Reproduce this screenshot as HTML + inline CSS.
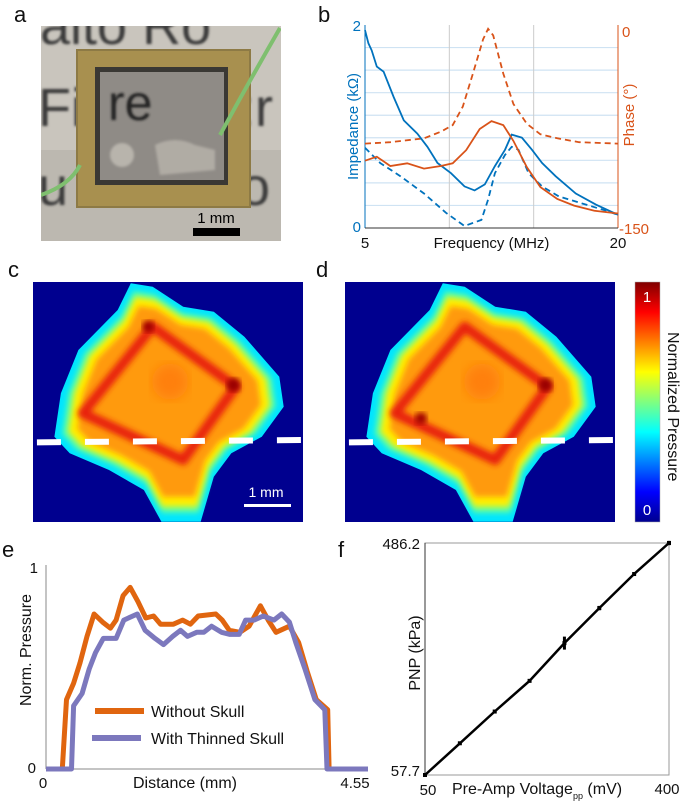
<!DOCTYPE html>
<html><head><meta charset="utf-8"><style>
body{margin:0;background:#fff;width:685px;height:805px;overflow:hidden;font-family:"Liberation Sans",sans-serif}
svg{position:absolute;left:0;top:0}
</style></head><body>
<svg id="fig" width="685" height="805" viewBox="0 0 685 805">
<defs>
<filter id="blur3"><feGaussianBlur stdDeviation="3"/></filter>
<filter id="blur5"><feGaussianBlur stdDeviation="6"/></filter>
<filter id="blur1"><feGaussianBlur stdDeviation="1.2"/></filter>
<linearGradient id="jet" x1="0" y1="1" x2="0" y2="0">
<stop offset="0" stop-color="#00008f"/><stop offset="0.125" stop-color="#0000ff"/><stop offset="0.375" stop-color="#00ffff"/><stop offset="0.625" stop-color="#ffff00"/><stop offset="0.875" stop-color="#ff0000"/><stop offset="1" stop-color="#800000"/>
</linearGradient>
<clipPath id="clipC"><rect x="33" y="282" width="270" height="240"/></clipPath>
<clipPath id="clipD"><rect x="345" y="282" width="270" height="240"/></clipPath>
<clipPath id="clipPhoto"><rect x="41" y="26" width="240" height="215"/></clipPath>
</defs>
<g font-size="22" fill="#111">
<text x="14" y="22">a</text>
<text x="318" y="22">b</text>
<text x="8" y="277">c</text>
<text x="316" y="277">d</text>
<text x="2" y="557">e</text>
<text x="338" y="557">f</text>
</g>
<!-- photo -->
<g id="photo" clip-path="url(#clipPhoto)">
<rect x="41" y="26" width="240" height="215" fill="#c9c5bd"/>
<rect x="41" y="150" width="240" height="91" fill="#bcb8b0"/>
<g font-size="54" fill="#3a3a3a" filter="url(#blur1)">
<text x="40" y="44">alto Ro</text>
<text x="38" y="126">Fi</text><text x="240" y="126">:r</text>
<text x="38" y="205">u</text><text x="240" y="205">o</text>
</g>
<rect x="77" y="50" width="173" height="157" fill="#a8904f" stroke="#8d7a45" stroke-width="2"/>
<rect x="95" y="67" width="133" height="118" fill="#3a3834"/>
<rect x="100" y="72" width="124" height="108" fill="#8f8b86"/>
<text x="108" y="120" font-size="50" fill="#202020" filter="url(#blur1)">re</text>
<path d="M155,145 q20,-10 40,0 l20,5 l0,20 l-55,5 z" fill="#b0aca4" filter="url(#blur1)"/>
<circle cx="122" cy="155" r="12" fill="#b8b4ac" filter="url(#blur1)"/>
<path d="M280,28 Q250,80 220,135" stroke="#7fbf6f" stroke-width="4" fill="none"/>
<path d="M41,195 Q70,185 80,165" stroke="#7fbf6f" stroke-width="4" fill="none"/>
<text x="216" y="223" font-size="15" text-anchor="middle" fill="#000">1 mm</text>
<rect x="193" y="228" width="47" height="8" fill="#000"/>
</g>
<g id="chartB"></g>
<g id="heatC"></g>
<g id="heatD"></g>
<g>
<rect x="635" y="282" width="25" height="240" fill="url(#jet)" stroke="#aaa" stroke-width="0.5"/>
<text x="647" y="302" font-size="15" fill="#fff" text-anchor="middle">1</text>
<text x="647" y="515" font-size="15" fill="#fff" text-anchor="middle">0</text>
<text transform="translate(668,332) rotate(90)" font-size="16" fill="#111">Normalized Pressure</text>
</g>
<g id="chartE"></g>
<g id="chartF"></g>
</svg>
<script>
// ---- Panel b data ----
const freqImpSolid = [5,5.2,5.4,5.7,6.1,6.7,7.3,8.1,8.7,9.3,10.1,10.9,11.5,12.1,12.7,13.3,13.7,14.3,14.9,15.5,16.3,17.5,18.7,20];
const impSolid = [1.95,1.82,1.75,1.59,1.54,1.29,1.06,0.93,0.8,0.64,0.54,0.41,0.37,0.43,0.61,0.77,0.92,0.89,0.77,0.64,0.51,0.34,0.23,0.13];
const freqImpDash = [5,5.9,7.1,8.5,9.8,10.9,11.9,12.3,12.7,13.3,13.7,14.1,14.7,15.5,16.5,17.9,19.1,20];
const impDash = [0.79,0.64,0.51,0.34,0.15,0.02,0.08,0.28,0.54,0.72,0.8,0.77,0.54,0.41,0.31,0.24,0.18,0.13];
const freqPhSolid = [5,5.7,6.5,7.5,8.5,9.5,10.2,11,11.8,12.5,13.2,13.8,14.6,15.4,16.4,17.4,18.6,20];
const phSolid = [-99,-96,-103,-101,-105,-103,-101,-91,-75,-69,-72,-84,-104,-119,-128,-133,-137,-139];
const freqPhDash = [5,6.5,8.5,9.5,10.2,10.8,11.4,12,12.3,12.6,13.2,13.8,14.6,15.4,16.4,17.7,20];
const phDash = [-86,-85,-82,-77,-72,-58,-33,-7,1,-4,-33,-56,-71,-79,-82,-85,-86];
const freqTicks = ["5","20"];
// ---- Panel e data ----
const distO = [0,0.23,0.29,0.39,0.48,0.58,0.68,0.8,0.91,0.99,1.09,1.19,1.3,1.41,1.52,1.62,1.8,1.93,2.04,2.15,2.4,2.49,2.59,2.74,2.87,3.03,3.14,3.25,3.44,3.57,3.69,3.82,3.98,4,4.55];
const presO = [0,0,0.34,0.42,0.52,0.65,0.76,0.72,0.69,0.73,0.85,0.89,0.82,0.74,0.75,0.71,0.71,0.73,0.71,0.75,0.76,0.73,0.68,0.67,0.70,0.80,0.73,0.67,0.70,0.62,0.48,0.34,0.29,0,0];
const distP = [0,0.36,0.39,0.51,0.61,0.7,0.81,0.99,1.1,1.29,1.4,1.54,1.66,1.79,1.9,2.0,2.13,2.23,2.34,2.48,2.6,2.73,2.82,2.94,3.07,3.22,3.33,3.44,3.53,3.66,3.8,3.94,3.97,4.55];
const presP = [0,0,0.31,0.37,0.49,0.57,0.64,0.64,0.73,0.76,0.68,0.64,0.61,0.65,0.68,0.65,0.67,0.67,0.7,0.67,0.66,0.66,0.73,0.73,0.75,0.73,0.76,0.72,0.62,0.49,0.34,0.29,0,0];
// ---- Panel f data ----
const voltage = [50,100,150,200,250,300,350,400];
const pnp = [57.7,116.3,174.9,231.6,301.3,366.0,428.9,486.2];
const pnpErr = [2,3,3,3,12,4,3,4];

const NS="http://www.w3.org/2000/svg";
function mk(parent,tag,attrs,text){const e=document.createElementNS(NS,tag);for(const k in attrs)e.setAttribute(k,attrs[k]);if(text!==undefined)e.textContent=text;parent.appendChild(e);return e;}
function pathFrom(xs,ys,sx,sy){return xs.map((x,i)=>(i?'L':'M')+sx(x).toFixed(1)+','+sy(ys[i]).toFixed(1)).join(' ');}

// Panel b
(function(){
 const g=document.getElementById('chartB');
 const L=365,R=618,T=25,B=228;
 const sx=f=>L+(f-5)/15*(R-L);
 const syZ=z=>B-z/2*(B-T);
 const syP=p=>B-(p+150)/150*(B-T)*0.975;
 for(let i=1;i<9;i++){const l=mk(g,'line',{x1:L,x2:R,y1:B-i*(B-T)/9,y2:B-i*(B-T)/9,stroke:'#cfe3f3','stroke-width':1.2});}
 [10,15].forEach(f=>{const l=mk(g,'line',{x1:sx(f),x2:sx(f),y1:T,y2:B,stroke:'#ccc','stroke-width':1});});
 const ax=mk(g,'line',{x1:L,x2:L,y1:T,y2:B,stroke:'#0072BD','stroke-width':1});
 const ax2=mk(g,'line',{x1:R,x2:R,y1:T,y2:B,stroke:'#D95319','stroke-width':1});
 const ax3=mk(g,'line',{x1:L,x2:R,y1:B,y2:B,stroke:'#333','stroke-width':1});
 const s1=mk(g,'path',{d:pathFrom(freqImpDash,impDash,sx,syZ),fill:'none',stroke:'#0072BD','stroke-width':1.8,'stroke-dasharray':'6,4'});
 const s2=mk(g,'path',{d:pathFrom(freqPhDash,phDash,sx,syP),fill:'none',stroke:'#D95319','stroke-width':1.8,'stroke-dasharray':'6,4'});
 const s3=mk(g,'path',{d:pathFrom(freqImpSolid,impSolid,sx,syZ),fill:'none',stroke:'#0072BD','stroke-width':1.8});
 const s4=mk(g,'path',{d:pathFrom(freqPhSolid,phSolid,sx,syP),fill:'none',stroke:'#D95319','stroke-width':1.8});
 mk(g,'text',{x:L-4,y:T+6,'font-size':15,fill:'#0072BD','text-anchor':'end'},'2');
 mk(g,'text',{x:L-4,y:B+4,'font-size':15,fill:'#0072BD','text-anchor':'end'},'0');
 mk(g,'text',{x:R+4,y:T+12,'font-size':15,fill:'#D95319'},'0');
 mk(g,'text',{x:R+1,y:B+6,'font-size':15,fill:'#D95319'},'-150');
 mk(g,'text',{x:sx(5),y:B+20,'font-size':15,fill:'#111','text-anchor':'middle'},freqTicks[0]);
 mk(g,'text',{x:sx(20),y:B+20,'font-size':15,fill:'#111','text-anchor':'middle'},freqTicks[1]);
 const xt=mk(g,'text',{x:(L+R)/2,y:B+20,'font-size':15,fill:'#111','text-anchor':'middle'},'Frequency (MHz)');
 const yt=mk(g,'text',{transform:`translate(${L-7},${(T+B)/2}) rotate(-90)`,'font-size':15,fill:'#0072BD','text-anchor':'middle'},'Impedance (kΩ)');
 const yt2=mk(g,'text',{transform:`translate(${R+16},${T+90}) rotate(-90)`,'font-size':15,fill:'#D95319','text-anchor':'middle'},'Phase (°)');
})();

// Heatmaps
function heat(id,clip,ox,variant){
 const g=document.getElementById(id);
 const gc=mk(g,'g',{'clip-path':`url(#${clip})`});
 mk(gc,'rect',{x:ox,y:282,width:270,height:240,fill:'#00008f'});
 const T=(zx,zy)=>[ox+(zx-76)/2.29,250+zy/3];
 const P=[[300,100],[350,110],[420,170],[490,185],[560,260],[640,380],[650,470],[600,560],[530,610],[490,680],[460,815],[370,815],[330,720],[250,660],[160,610],[125,560],[140,430],[180,300],[270,180]].map(p=>T(p[0],p[1]));
 const c=T(390,440),cx=c[0],cy=c[1];
 const layer=(s,col,f)=>mk(gc,'polygon',{points:P.map(p=>[(cx+(p[0]-cx)*s).toFixed(1),(cy+(p[1]-cy)*s).toFixed(1)].join(',')).join(' '),fill:col,filter:f||''});
 layer(1,'#00e5ff');layer(0.93,'#60ffa0','url(#blur3)');layer(0.88,'#ffee00','url(#blur3)');layer(0.8,'#ff9a10','url(#blur3)');
 const r=[T(350,230),T(540,410),T(420,630),T(190,490)];
 mk(gc,'polygon',{points:r.map(p=>p.join(',')).join(' '),fill:'none',stroke:'#e8200a','stroke-width':10,filter:'url(#blur3)','stroke-linejoin':'round'});
 const a=T(535,405);mk(gc,'circle',{cx:a[0],cy:a[1],r:7,fill:'#9a0000',filter:'url(#blur3)'});
 const b=variant?T(250,505):T(340,230);mk(gc,'circle',{cx:b[0],cy:b[1],r:6,fill:'#a00000',filter:'url(#blur3)'});
 mk(gc,'circle',{cx:cx,cy:cy-15,r:18,fill:'#ff8010',filter:'url(#blur5)'});
 const l0=T(85,577),l1=T(700,570);
 const dl=mk(gc,'line',{x1:l0[0],x2:l1[0],y1:l0[1],y2:l1[1],stroke:'#fff','stroke-width':6,'stroke-dasharray':'24,24'});
 
 if(!variant){
  mk(g,'text',{x:ox+233,y:497,'font-size':14,fill:'#fff','text-anchor':'middle'},'1 mm');
  const sb=mk(g,'rect',{x:ox+211,y:504,width:47,height:3,fill:'#fff'});
 }
}
heat('heatC','clipC',33,0);heat('heatD','clipD',345,1);

// Panel e
(function(){
 const g=document.getElementById('chartE');
 const L=46,R=368,T=565,B=769;
 const sx=d=>L+d/4.55*(R-L);
 const sy=v=>B-v*(B-T);
 mk(g,'line',{x1:L,x2:L,y1:T,y2:B,stroke:'#888','stroke-width':1});
 mk(g,'line',{x1:L,x2:R,y1:B,y2:B,stroke:'#888','stroke-width':1});
 const o=mk(g,'path',{d:pathFrom(distO,presO,sx,sy),fill:'none',stroke:'#e0650f','stroke-width':5,'stroke-linejoin':'round'});
 const p=mk(g,'path',{d:pathFrom(distP,presP,sx,sy),fill:'none',stroke:'#7c78bd','stroke-width':5,'stroke-linejoin':'round'});
 mk(g,'text',{x:L-8,y:T+8,'font-size':15,fill:'#111','text-anchor':'end'},'1');
 mk(g,'text',{x:L-10,y:B+4,'font-size':15,fill:'#111','text-anchor':'end'},'0');
 mk(g,'text',{x:43,y:B+19,'font-size':15,fill:'#111','text-anchor':'middle'},'0');
 mk(g,'text',{x:355,y:B+19,'font-size':15,fill:'#111','text-anchor':'middle'},'4.55');
 const xt=mk(g,'text',{x:185,y:B+19,'font-size':16,fill:'#111','text-anchor':'middle'},'Distance (mm)');
 const yt=mk(g,'text',{transform:`translate(31,650) rotate(-90)`,'font-size':16,fill:'#111','text-anchor':'middle'},'Norm. Pressure');
 const lg=mk(g,'g',{});
 mk(lg,'line',{x1:95,x2:144,y1:711,y2:711,stroke:'#e0650f','stroke-width':6});
 mk(lg,'text',{x:151,y:717,'font-size':16,fill:'#111'},'Without Skull');
 mk(lg,'line',{x1:92,x2:141,y1:738,y2:738,stroke:'#7c78bd','stroke-width':6});
 mk(lg,'text',{x:151,y:744,'font-size':16,fill:'#111'},'With Thinned Skull');
})();

// Panel f
(function(){
 const g=document.getElementById('chartF');
 const L=425,R=669,T=543,B=775;
 const sx=v=>L+(v-50)/350*(R-L);
 const sy=p=>B-(p-57.7)/(486.2-57.7)*(B-T);
 mk(g,'rect',{x:L,y:T,width:R-L,height:B-T,fill:'none',stroke:'#999','stroke-width':1});
 mk(g,'line',{x1:L,x2:L,y1:T,y2:B,stroke:'#333','stroke-width':1});
 const ln=mk(g,'path',{d:pathFrom(voltage,pnp,sx,sy),fill:'none',stroke:'#000','stroke-width':2.5});
 voltage.forEach((v,i)=>{
  const e=mk(g,'line',{x1:sx(v),x2:sx(v),y1:sy(pnp[i]-pnpErr[i]),y2:sy(pnp[i]+pnpErr[i]),stroke:'#000','stroke-width':3});
  
  
  mk(g,'rect',{x:sx(v)-2,y:sy(pnp[i])-2,width:4,height:4,fill:'#000'});
 });
 mk(g,'text',{x:L-5,y:T+6,'font-size':15,fill:'#111','text-anchor':'end'},'486.2');
 mk(g,'text',{x:L-5,y:B+1,'font-size':15,fill:'#111','text-anchor':'end'},'57.7');
 mk(g,'text',{x:L+3,y:B+20,'font-size':15,fill:'#111','text-anchor':'middle'},'50');
 mk(g,'text',{x:R-2,y:B+19,'font-size':15,fill:'#111','text-anchor':'middle'},'400');
 const xt=mk(g,'text',{x:452,y:B+19,'font-size':16,fill:'#111'},'');
 mk(xt,'tspan',{},'Pre-Amp Voltage');mk(xt,'tspan',{'font-size':9,dy:5},'pp');mk(xt,'tspan',{dy:-5},' (mV)');
 const yt=mk(g,'text',{transform:`translate(420,653) rotate(-90)`,'font-size':16,fill:'#111','text-anchor':'middle'},'PNP (kPa)');
})();
</script>
</body></html>
